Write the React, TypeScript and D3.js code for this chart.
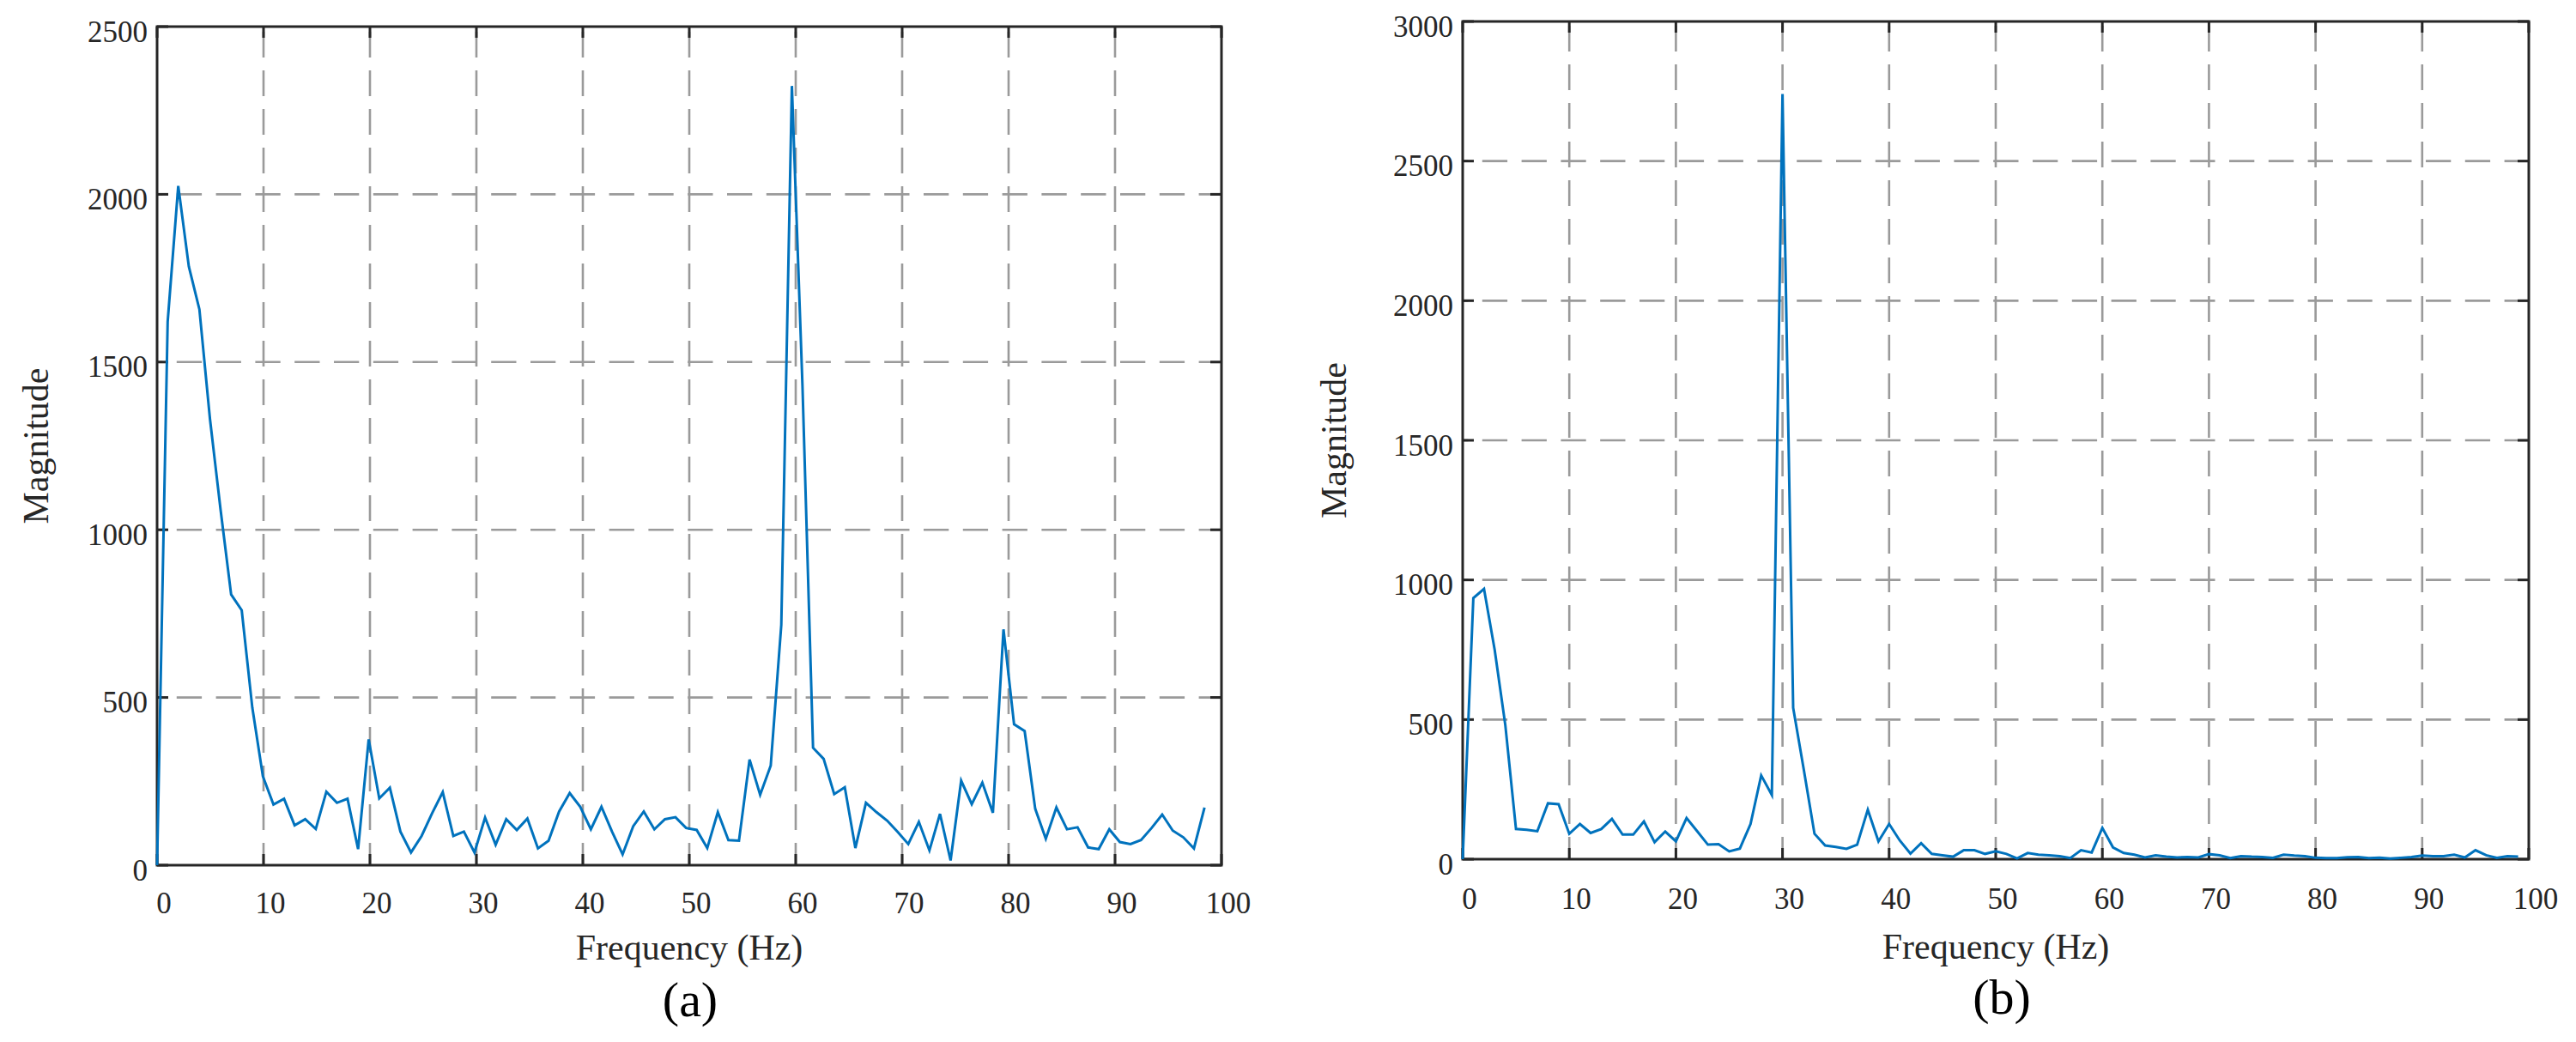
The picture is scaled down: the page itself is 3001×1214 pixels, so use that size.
import React from "react";
import * as d3 from "d3";

// ---------- data ----------
const X_TICKS = [0, 10, 20, 30, 40, 50, 60, 70, 80, 90, 100];
const Y_TICKS_A = [0, 500, 1000, 1500, 2000, 2500];
const Y_TICKS_B = [0, 500, 1000, 1500, 2000, 2500, 3000];

// frequency bin width (Hz) of each spectrum
const BIN_HZ_A = 0.994;
const BIN_HZ_B = 1.0;

// (a) magnitude per frequency bin
const MAG_A = [
  0, 1620, 2025, 1785, 1657, 1330, 1060, 807, 760, 470,
  265, 181, 198, 119, 137, 108, 219, 186, 198, 48,
  375, 199, 231, 100, 38, 87, 155, 218, 87, 100,
  38, 142, 61, 137, 105, 139, 50, 73, 160, 215,
  174, 107, 174, 100, 32, 116, 160, 107, 137, 143,
  111, 105, 51, 158, 75, 73, 315, 210, 297, 717,
  2323, 1430, 350, 317, 212, 232, 51, 186, 158, 133,
  99, 63, 129, 44, 153, 14, 252, 182, 246, 156,
  703, 420, 400, 168, 79, 172, 107, 113, 53, 48,
  107, 69, 63, 75, 111, 151, 103, 83, 50, 172,
];

// (b) magnitude per frequency bin
const MAG_B = [
  0, 935, 968, 750, 480, 108, 105, 100, 200, 197,
  91, 126, 94, 108, 144, 88, 88, 135, 61, 99,
  64, 147, 100, 52, 54, 28, 38, 126, 300, 230,
  2740, 542, 320, 91, 49, 44, 37, 52, 177, 64,
  126, 67, 20, 57, 19, 14, 9, 32, 32, 19,
  28, 19, 3, 22, 16, 14, 11, 4, 32, 24,
  112, 42, 22, 16, 6, 14, 9, 6, 8, 6,
  18, 14, 4, 11, 9, 8, 5, 16, 13, 11,
  5, 4, 4, 7, 8, 4, 5, 2, 5, 8,
  13, 11, 11, 16, 6, 32, 14, 5, 11, 9,
];

const X_LABEL = "Frequency (Hz)";
const Y_LABEL = "Magnitude";

// ---------- style ----------
const FONT = "'Liberation Serif', 'Times New Roman', Times, serif";
const INK = "#262626";
const GRID = "#9a9a9a";
const BLUE = "#0072BD";

type PanelProps = {
  left: number;
  right: number;
  top: number;
  bottom: number;
  yMax: number;
  yTicks: number[];
  values: number[];
  binHz: number;
  yLabelX: number;
  tag: string;
  tagX: number;
  tagY: number;
  xLabelY: number;
  xTickDy: number;
};

function Panel(p: PanelProps) {
  const x = d3.scaleLinear().domain([0, 100]).range([p.left, p.right]);
  const y = d3.scaleLinear().domain([0, p.yMax]).range([p.bottom, p.top]);
  const pts = p.values.map((v, i) => [i * p.binHz, v] as [number, number]);
  const line = d3
    .line<[number, number]>()
    .x((d) => x(d[0]))
    .y((d) => y(d[1]));
  const tickLen = 13;
  const cx = (p.left + p.right) / 2;
  const cy = (p.top + p.bottom) / 2;

  return (
    <g>
      {/* grid */}
      {X_TICKS.filter((t) => t > 0 && t < 100).map((t) => (
        <line
          key={"gx" + t}
          x1={x(t)}
          x2={x(t)}
          y1={p.bottom}
          y2={p.top}
          stroke={GRID}
          strokeWidth={2.6}
          strokeDasharray="30 15"
          strokeDashoffset={4}
        />
      ))}
      {p.yTicks.filter((t) => t > 0 && t < p.yMax).map((t) => (
        <line
          key={"gy" + t}
          x1={p.left}
          x2={p.right}
          y1={y(t)}
          y2={y(t)}
          stroke={GRID}
          strokeWidth={2.6}
          strokeDasharray="29.3 16.5"
          strokeDashoffset={23}
        />
      ))}
      {/* box */}
      <rect
        x={p.left}
        y={p.top}
        width={p.right - p.left}
        height={p.bottom - p.top}
        fill="none"
        stroke={INK}
        strokeWidth={3}
      />
      {/* ticks */}
      {X_TICKS.map((t) => (
        <g key={"tx" + t}>
          <line x1={x(t)} x2={x(t)} y1={p.bottom} y2={p.bottom - tickLen} stroke={INK} strokeWidth={3} />
          <line x1={x(t)} x2={x(t)} y1={p.top} y2={p.top + tickLen} stroke={INK} strokeWidth={3} />
          <text
            x={x(t) + 8}
            y={p.bottom + p.xTickDy}
            textAnchor="middle"
            fontFamily={FONT}
            fontSize={35}
            fill={INK}
          >
            {t}
          </text>
        </g>
      ))}
      {p.yTicks.map((t) => (
        <g key={"ty" + t}>
          <line x1={p.left} x2={p.left + tickLen} y1={y(t)} y2={y(t)} stroke={INK} strokeWidth={3} />
          <line x1={p.right} x2={p.right - tickLen} y1={y(t)} y2={y(t)} stroke={INK} strokeWidth={3} />
          <text
            x={p.left - 11}
            y={y(t) + 17.5}
            textAnchor="end"
            fontFamily={FONT}
            fontSize={35}
            fill={INK}
          >
            {t}
          </text>
        </g>
      ))}
      {/* data */}
      <path d={line(pts) || ""} fill="none" stroke={BLUE} strokeWidth={3} />
      {/* labels */}
      <text x={cx} y={p.xLabelY} textAnchor="middle" fontFamily={FONT} fontSize={42} fill={INK}>
        {X_LABEL}
      </text>
      <text
        transform={`translate(${p.yLabelX},${cy}) rotate(-90)`}
        textAnchor="middle"
        fontFamily={FONT}
        fontSize={42}
        fill={INK}
      >
        {Y_LABEL}
      </text>
      <text x={p.tagX} y={p.tagY} textAnchor="middle" fontFamily={FONT} fontSize={58} fill="#000">
        {p.tag}
      </text>
    </g>
  );
}

export default function App() {
  return (
    <svg
      width={3001}
      height={1214}
      viewBox="0 0 3001 1214"
      style={{ position: "absolute", left: 0, top: 0, background: "#fff" }}
    >
      <rect x={0} y={0} width={3001} height={1214} fill="#fff" />
      <Panel
        left={183}
        right={1423}
        top={31}
        bottom={1008}
        yMax={2500}
        yTicks={Y_TICKS_A}
        values={MAG_A}
        binHz={BIN_HZ_A}
        yLabelX={56}
        tag="(a)"
        tagX={804}
        tagY={1184}
        xLabelY={1118}
        xTickDy={56}
      />
      <Panel
        left={1704}
        right={2946}
        top={25}
        bottom={1001}
        yMax={3000}
        yTicks={Y_TICKS_B}
        values={MAG_B}
        binHz={BIN_HZ_B}
        yLabelX={1568}
        tag="(b)"
        tagX={2332}
        tagY={1181}
        xLabelY={1117}
        xTickDy={58}
      />
    </svg>
  );
}
